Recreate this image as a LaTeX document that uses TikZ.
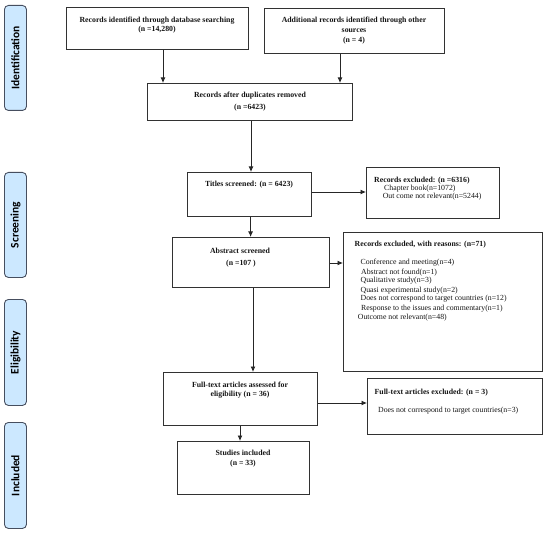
\documentclass[tikz,border=0pt]{standalone}
\usepackage{fontspec}
\setmainfont{Liberation Serif}
\newfontfamily\lblfont{Carlito}
\usetikzlibrary{arrows.meta}
\definecolor{lblfill}{RGB}{204,232,255}
\definecolor{lbldraw}{RGB}{70,78,95}
\definecolor{boxdraw}{RGB}{50,50,50}
\definecolor{txtc}{RGB}{20,20,20}
\begin{document}
\begin{tikzpicture}[x=1pt,y=-1pt,
  box/.style={draw=boxdraw, line width=0.9pt, inner sep=0pt, anchor=north west},
  lbl/.style={draw=lbldraw, fill=lblfill, line width=0.9pt, rounded corners=4pt, inner sep=0pt, anchor=north west, minimum width=22pt},
  lbltxt/.style={font=\lblfont\bfseries\fontsize{11.5}{12}\selectfont, rotate=90, inner sep=0pt, text=black},
  bt/.style={font=\bfseries\fontsize{7.8}{9}\selectfont, inner sep=0pt, anchor=base, text=txtc},
  btl/.style={bt, anchor=base west},
  nt/.style={font=\fontsize{7.8}{9}\selectfont, inner sep=0pt, anchor=base west, text=txtc},
  arr/.style={draw=black!85, line width=0.9pt, -{Latex[length=5.5pt,width=5pt]}}]
\useasboundingbox (0,0) rectangle (550,535);

% side labels
\node[lbl, minimum height=105pt] (L1) at (4,5) {};
\node[lbl, minimum height=105pt] (L2) at (4,172) {};
\node[lbl, minimum height=106pt] (L3) at (4,299) {};
\node[lbl, minimum height=106pt] (L4) at (4,422) {};
\node[lbltxt] (L1t) at (L1.center) {Identification};
\node[lbltxt] (L2t) at (L2.center) {Screening};
\node[lbltxt] (L3t) at (L3.center) {Eligibility};
\node[lbltxt] (L4t) at (L4.center) {Included};

% boxes
\node[box, minimum width=182pt, minimum height=42pt] (A) at (66,7) {};
\node[box, minimum width=180pt, minimum height=45pt] (B) at (264,8) {};
\node[box, minimum width=205pt, minimum height=37pt] (C) at (147,83) {};
\node[box, minimum width=124pt, minimum height=44pt] (D) at (187,172) {};
\node[box, minimum width=133pt, minimum height=51pt] (E) at (366,167) {};
\node[box, minimum width=157pt, minimum height=50pt] (F) at (172,237) {};
\node[box, minimum width=199pt, minimum height=139pt] (G) at (343,232) {};
\node[box, minimum width=154pt, minimum height=53pt] (H) at (163,372) {};
\node[box, minimum width=175pt, minimum height=56pt] (I) at (367,378) {};
\node[box, minimum width=132pt, minimum height=53pt] (J) at (177,441) {};

% texts
\node[bt] (A1) at (157,23) {Records identified through database searching};
\node[bt] (A2) at (157,32) {(n =14,280)};
\node[bt] (B1) at (354,23) {Additional records identified through other};
\node[bt] (B2) at (354,32.5) {sources};
\node[bt] (B3) at (354,43) {(n = 4)};
\node[bt] (C1) at (250,97.5) {Records after duplicates removed};
\node[bt] (C2) at (250,109.5) {(n =6423)};
\node[bt] (D1) at (249,186.5) {Titles screened: (n = 6423)};
\node[btl] (E1) at (374,182.5) {Records excluded: (n =6316)};
\node[nt] (E2) at (384,190.8) {Chapter book(n=1072)};
\node[nt] (E3) at (382.6,198.5) {Out come not relevant(n=5244)};
\node[bt] (F1) at (240,253.5) {Abstract screened};
\node[bt] (F2) at (241,265.5) {(n =107 )};
\node[btl] (G1) at (354.5,246.5) {Records excluded, with reasons: (n=71)};
\node[nt] (G2) at (360.5,265) {Conference and meeting(n=4)};
\node[nt] (G3) at (361,274) {Abstract not found(n=1)};
\node[nt] (G4) at (360.5,283) {Qualitative study(n=3)};
\node[nt] (G5) at (360.5,292) {Quasi experimental study(n=2)};
\node[nt] (G6) at (360.5,301) {Does not correspond to target countries (n=12)};
\node[nt] (G7) at (361,310) {Response to the issues and commentary(n=1)};
\node[nt] (G8) at (357.7,319) {Outcome not relevant(n=48)};
\node[bt] (H1) at (240,387.5) {Full-text articles assessed for};
\node[bt] (H2) at (240,396.5) {eligibility (n = 36)};
\node[btl] (I1) at (374.5,394) {Full-text articles excluded: (n = 3)};
\node[nt] (I2) at (378,412.5) {Does not correspond to target countries(n=3)};
\node[bt] (J1) at (243,455.5) {Studies included};
\node[bt] (J2) at (243,465.5) {(n = 33)};

% arrow guide coordinates
\coordinate (xAC) at (163,0);
\coordinate (xBC) at (340,0);
\coordinate (xCD) at (251,0);
\coordinate (xDF) at (250.6,0);
\coordinate (xFH) at (253,0);
\coordinate (xHJ) at (240,0);
\coordinate (yDE) at (0,192);
\coordinate (yFG) at (0,263);
\coordinate (yHI) at (0,403);

% connectors
\draw[arr] (A.south -| xAC) -- (C.north -| xAC);
\draw[arr] (B.south -| xBC) -- (C.north -| xBC);
\draw[arr] (C.south -| xCD) -- (D.north -| xCD);
\draw[arr] (D.east |- yDE) -- (E.west |- yDE);
\draw[arr] (D.south -| xDF) -- (F.north -| xDF);
\draw[arr] (F.east |- yFG) -- (G.west |- yFG);
\draw[arr] (F.south -| xFH) -- (H.north -| xFH);
\draw[arr] (H.east |- yHI) -- (I.west |- yHI);
\draw[arr] (H.south -| xHJ) -- (J.north -| xHJ);
\end{tikzpicture}
\end{document}
